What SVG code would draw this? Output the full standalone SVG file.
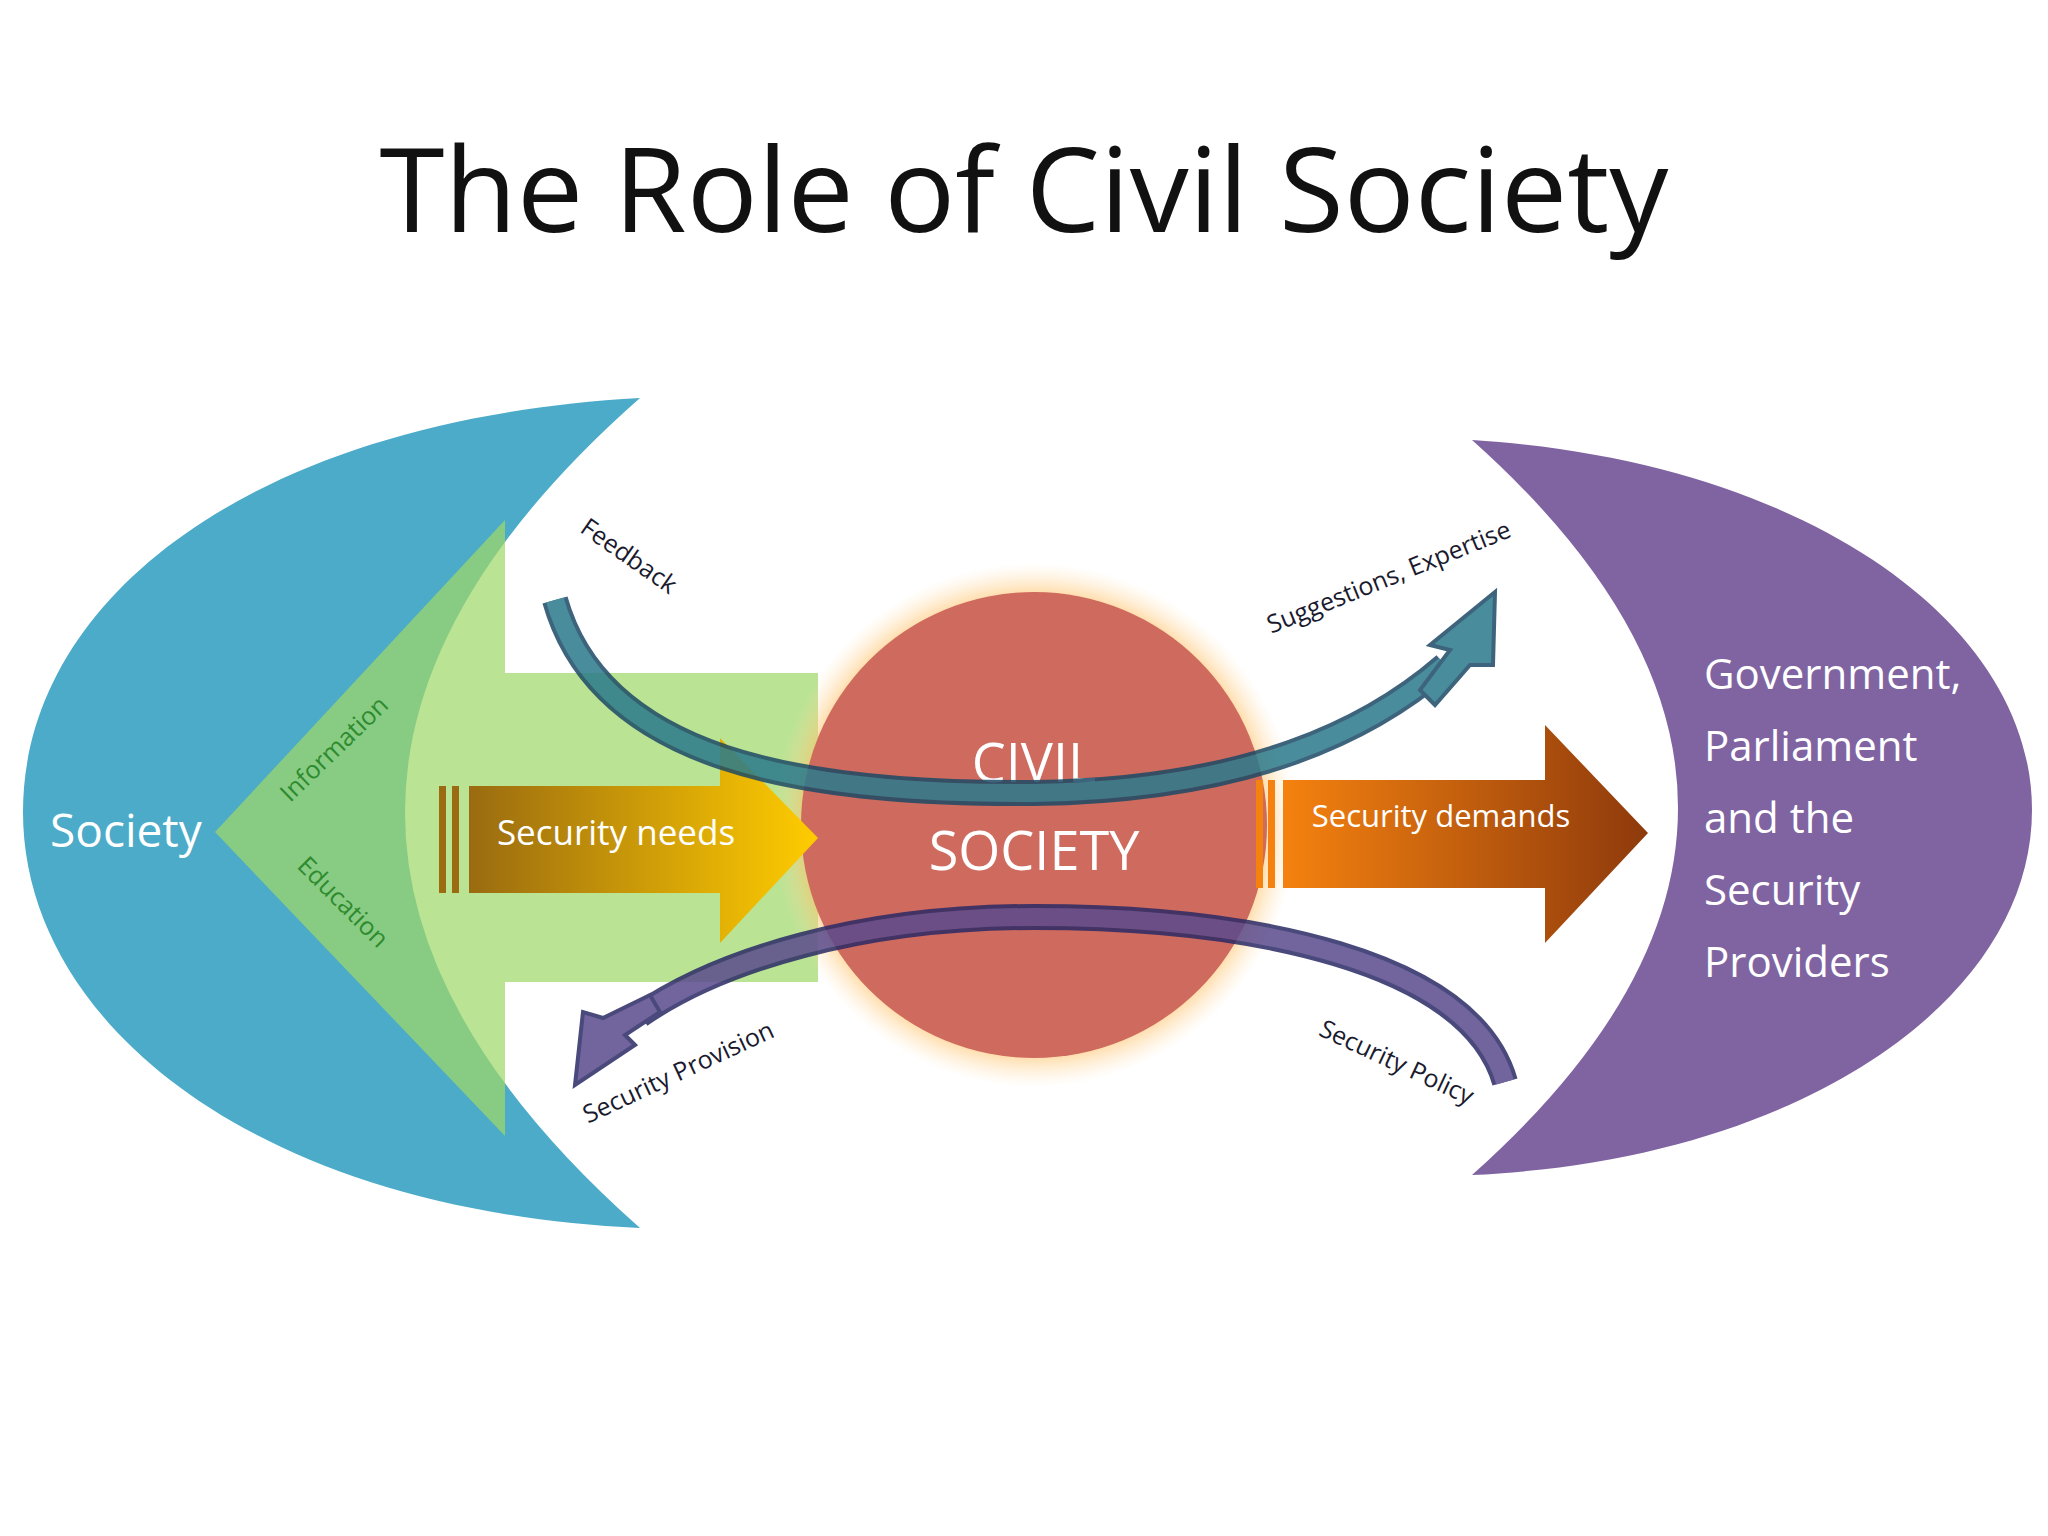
<svg xmlns="http://www.w3.org/2000/svg" width="2048" height="1536" viewBox="0 0 2048 1536">
<defs>
<style>
.t{font-family:"Open Sans","Liberation Sans",sans-serif}
.w{fill:#fff}
.s{fill:#1a1a2e;font-size:25px}
.g{fill:#2e8b2e;font-size:25px}
</style>
<radialGradient id="glow" cx="0.5" cy="0.5" r="0.5">
<stop offset="0.82" stop-color="#ffb347" stop-opacity="0.9"/>
<stop offset="1" stop-color="#ffe0b0" stop-opacity="0"/>
</radialGradient>
<linearGradient id="gNeeds" x1="0" x2="1" y1="0" y2="0">
<stop offset="0" stop-color="#9a6b10"/><stop offset="1" stop-color="#ffcc00"/>
</linearGradient>
<linearGradient id="gDem" x1="0" x2="1" y1="0" y2="0">
<stop offset="0" stop-color="#f5820f"/><stop offset="1" stop-color="#8e3a0c"/>
</linearGradient>
</defs>
<rect width="2048" height="1536" fill="#fff"/>
<text class="t" x="1024" y="232" font-size="118" text-anchor="middle" fill="#111">The Role of Civil Society</text>

<g id="society">
<path d="M640,398 C250,420 23,600 23,812 C23,1020 250,1210 640,1228 Q170,812 640,398 Z" fill="#4babc8"/>
</g>
<g id="government">
<path d="M1472,440 C1800,460 2032,620 2032,810 C2032,1000 1800,1160 1472,1175 Q1884,808 1472,440 Z" fill="#8064a2"/>
<text class="t w" font-size="42"><tspan x="1704" y="689">Government,</tspan><tspan x="1704" y="761">Parliament</tspan><tspan x="1704" y="833">and the</tspan><tspan x="1704" y="905">Security</tspan><tspan x="1704" y="977">Providers</tspan></text>
</g>
<g id="greenArrow">
<path d="M215,832 L505,520 L505,673 L818,673 L818,982 L505,982 L505,1136 Z" fill="#9fd86a" fill-opacity="0.72"/>
<text class="t g" transform="translate(340,755) rotate(-44)" text-anchor="middle">Information</text>
<text class="t g" transform="translate(337,908) rotate(45)" text-anchor="middle">Education</text>
</g>
<g id="civil">
<circle cx="1034" cy="825" r="262" fill="url(#glow)"/>
<circle cx="1034" cy="825" r="233" fill="#cf6a5e"/>
<text class="t w" x="1034" y="782" font-size="54" text-anchor="middle">CIVIL</text>
<text class="t w" x="1034" y="870" font-size="54" text-anchor="middle">SOCIETY</text>
</g>
<g id="needs">
<rect x="439" y="786" width="7" height="107" fill="#9a6b10"/>
<rect x="452" y="786" width="7" height="107" fill="#9a6b10"/>
<path d="M469,786 L720,786 L720,738 L818,838 L720,943 L720,893 L469,893 Z" fill="url(#gNeeds)"/>
<text class="t w" x="616" y="845" font-size="35" text-anchor="middle">Security needs</text>
</g>
<g id="demands">
<rect x="1256" y="780" width="7" height="108" fill="#f5820f"/>
<rect x="1268" y="780" width="7" height="108" fill="#f5820f"/>
<path d="M1283,780 L1545,780 L1545,725 L1648,833 L1545,943 L1545,888 L1283,888 Z" fill="url(#gDem)"/>
<text class="t w" x="1441" y="827" font-size="31" text-anchor="middle">Security demands</text>
</g>
<g id="connectors" opacity="0.85">
<path d="M555,600 C600,760 800,795 1034,793 C1250,790 1370,730 1445,665" fill="none" stroke="#1c4a66" stroke-width="26"/>
<path d="M555,600 C600,760 800,795 1034,793 C1250,790 1370,730 1445,665" fill="none" stroke="#2a7a8c" stroke-width="18"/>
<polygon points="1495,592 1493,665 1470,665 1435,705 1420,690 1450,650 1430,645" fill="#2a7a8c" stroke="#1c4a66" stroke-width="4"/>
<path d="M1505,1082 C1470,960 1250,917 1034,917 C860,917 720,960 640,1015" fill="none" stroke="#2a2a66" stroke-width="26"/>
<path d="M1505,1082 C1470,960 1250,917 1034,917 C860,917 720,960 640,1015" fill="none" stroke="#5a4a8c" stroke-width="18"/>
<polygon points="575,1085 583,1012 603,1018 650,995 660,1012 625,1035 635,1045" fill="#5a4a8c" stroke="#2a2a66" stroke-width="4"/>
</g>
<g id="labels">
<text class="t s" transform="translate(624,563) rotate(35)" text-anchor="middle">Feedback</text>
<text class="t s" transform="translate(1392,585) rotate(-22)" text-anchor="middle">Suggestions, Expertise</text>
<text class="t s" transform="translate(682,1080) rotate(-25)" text-anchor="middle">Security Provision</text>
<text class="t s" transform="translate(1393,1070) rotate(25)" text-anchor="middle">Security Policy</text>
<text class="t w" x="50" y="847" font-size="46">Society</text>
</g>
</svg>
